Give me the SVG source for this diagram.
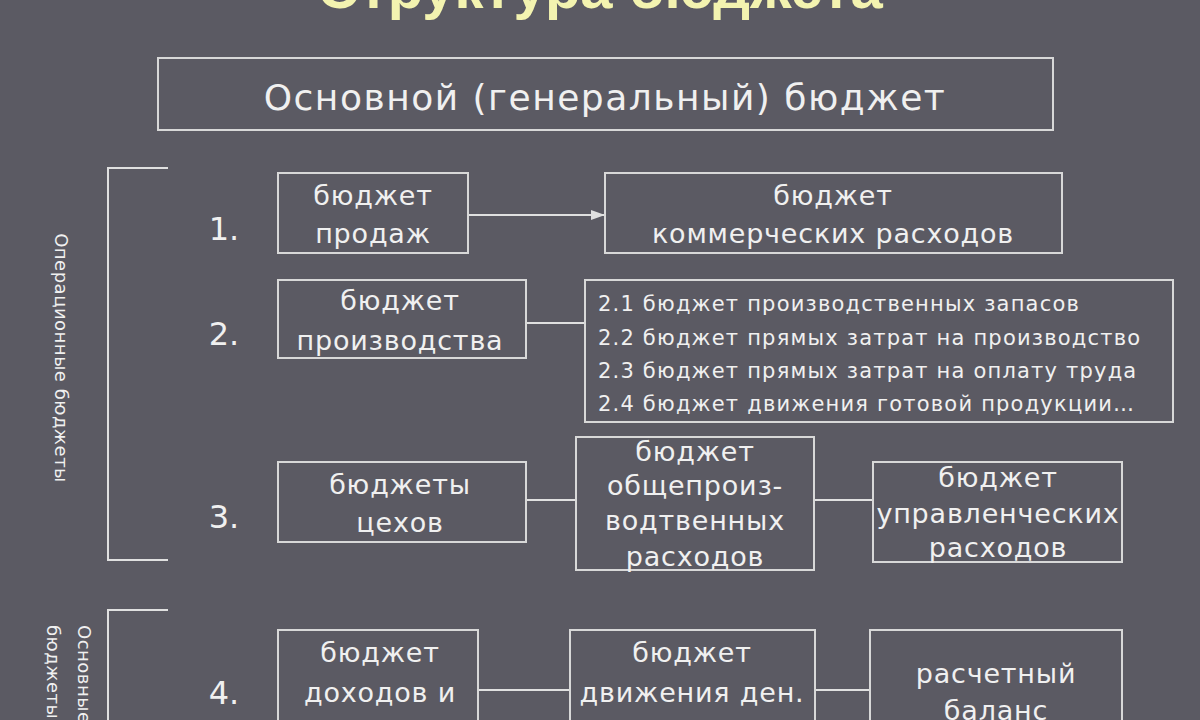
<svg xmlns="http://www.w3.org/2000/svg" width="1200" height="720" viewBox="0 0 1200 720">
<style>
.b{fill:none;stroke:#d8d8d8;stroke-width:2}
.t{font-family:"DejaVu Sans",sans-serif;fill:#f0f0f0;text-anchor:middle;font-size:27px;letter-spacing:0.8px}
.s{font-family:"DejaVu Sans",sans-serif;fill:#f0f0f0;font-size:21px;letter-spacing:1.2px}
.v{font-family:"DejaVu Sans",sans-serif;fill:#f0f0f0;font-size:18px;letter-spacing:0.5px}
.n{font-family:"DejaVu Sans",sans-serif;fill:#f0f0f0;font-size:32px;text-anchor:middle}
.c{stroke:#e0e0e0;stroke-width:2;fill:none}
</style>
<defs><marker id="a" markerWidth="14" markerHeight="12" refX="13" refY="6" orient="auto" markerUnits="userSpaceOnUse"><path d="M0,1 L14,6 L0,11 Z" fill="#e0e0e0"/></marker></defs>
<rect width="1200" height="720" fill="#5b5a63"/>
<text x="600" y="8" font-family="Liberation Sans,sans-serif" font-weight="bold" font-size="58" fill="#f3f3b0" text-anchor="middle">Структура бюджета</text>
<g id="main"><rect class="b" x="158" y="58" width="895" height="72"/><text class="t" x="605" y="110" style="font-size:36px;letter-spacing:1.5px">Основной (генеральный) бюджет</text></g>
<g id="brackets">
<path class="c" d="M168,168 H108 V560 H168"/>
<path class="c" d="M168,610 H108 V720"/>
<text class="v" text-anchor="middle" transform="translate(55,358) rotate(90)">Операционные бюджеты</text>
<text class="v" transform="translate(78,625) rotate(90)">Основные</text>
<text class="v" transform="translate(47,625) rotate(90)">бюджеты</text>
</g>
<g id="nums"><text class="n" x="224" y="240">1.</text><text class="n" x="224" y="345">2.</text><text class="n" x="224" y="528">3.</text><text class="n" x="224" y="704">4.</text></g>
<g id="connectors">
<line class="c" x1="468" y1="215" x2="604" y2="215" marker-end="url(#a)"/>
<line class="c" x1="526" y1="323" x2="585" y2="323"/>
<line class="c" x1="526" y1="500" x2="576" y2="500"/>
<line class="c" x1="814" y1="500" x2="873" y2="500"/>
<line class="c" x1="478" y1="690" x2="570" y2="690"/>
<line class="c" x1="815" y1="690" x2="870" y2="690"/>
</g>
<g id="sales"><rect class="b" x="278" y="173" width="190" height="80"/><text class="t" x="373" y="205">бюджет</text><text class="t" x="373" y="243">продаж</text></g>
<g id="comm"><rect class="b" x="605" y="173" width="457" height="80"/><text class="t" x="833" y="205">бюджет</text><text class="t" x="833" y="243">коммерческих расходов</text></g>
<g id="prod"><rect class="b" x="278" y="280" width="248" height="78"/><text class="t" x="400" y="310">бюджет</text><text class="t" x="400" y="350">производства</text></g>
<g id="list"><rect class="b" x="585" y="280" width="588" height="142"/>
<text class="s" x="598" y="311">2.1 бюджет производственных запасов</text>
<text class="s" x="598" y="345">2.2 бюджет прямых затрат на производство</text>
<text class="s" x="598" y="378">2.3 бюджет прямых затрат на оплату труда</text>
<text class="s" x="598" y="411">2.4 бюджет движения готовой продукции…</text></g>
<g id="shops"><rect class="b" x="278" y="462" width="248" height="80"/><text class="t" x="400" y="494">бюджеты</text><text class="t" x="400" y="532">цехов</text></g>
<g id="overhead"><rect class="b" x="576" y="437" width="238" height="133"/><text class="t" x="695" y="461">бюджет</text><text class="t" x="695" y="495">общепроиз-</text><text class="t" x="695" y="530">водтвенных</text><text class="t" x="695" y="566">расходов</text></g>
<g id="admin"><rect class="b" x="873" y="462" width="249" height="100"/><text class="t" x="998" y="487">бюджет</text><text class="t" x="998" y="523">управленческих</text><text class="t" x="998" y="557">расходов</text></g>
<g id="income"><rect class="b" x="278" y="630" width="200" height="100"/><text class="t" x="380" y="662">бюджет</text><text class="t" x="380" y="702">доходов и</text></g>
<g id="cash"><rect class="b" x="570" y="630" width="245" height="100"/><text class="t" x="692" y="662">бюджет</text><text class="t" x="692" y="702">движения ден.</text></g>
<g id="balance"><rect class="b" x="870" y="630" width="252" height="100"/><text class="t" x="996" y="683">расчетный</text><text class="t" x="996" y="720">баланс</text></g>
</svg>
